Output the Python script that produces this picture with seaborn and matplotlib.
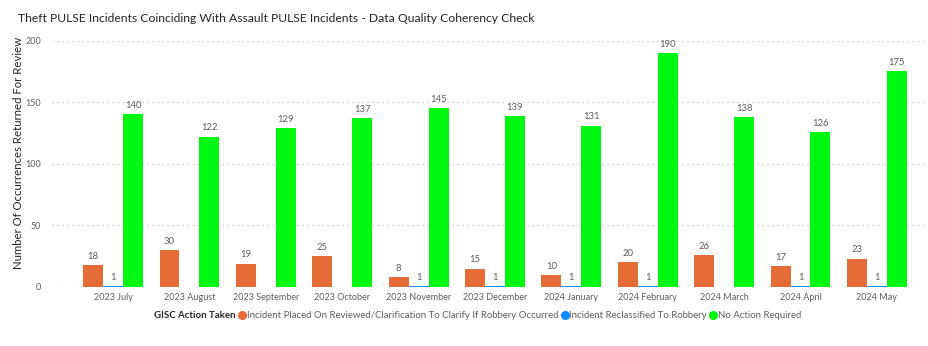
import matplotlib
matplotlib.use("Agg")
import matplotlib.pyplot as plt
from matplotlib.lines import Line2D
import seaborn as sns
import numpy as np
import pandas as pd

months = ["2023 July", "2023 August", "2023 September", "2023 October", "2023 November",
          "2023 December", "2024 January", "2024 February", "2024 March", "2024 April", "2024 May"]
series_names = ["Incident Placed On Reviewed/Clarification To Clarify If Robbery Occurred",
                "Incident Reclassified To Robbery",
                "No Action Required"]
placed_on_review = [18, 30, 19, 25, 8, 15, 10, 20, 26, 17, 23]
reclassified = [1, np.nan, np.nan, np.nan, 1, 1, 1, 1, np.nan, 1, 1]
no_action = [140, 122, 129, 137, 145, 139, 131, 190, 138, 126, 175]
colors = ["#E66C37", "#118DFF", "#00F70F"]

rows = []
for s, vals in zip(series_names, [placed_on_review, reclassified, no_action]):
    for m, v in zip(months, vals):
        rows.append({"Month": m, "Series": s, "Value": v})
df = pd.DataFrame(rows)

sns.set_theme(style="white")
plt.rcParams['font.family'] = ['Lato', 'DejaVu Sans']

W, H = 929, 346
fig = plt.figure(figsize=(W / 100, H / 100), dpi=100)
ax = fig.add_axes([52 / W, 1 - 287 / H, (925 - 52) / W, (287 - 40.5) / H])

sns.barplot(data=df, x="Month", y="Value", hue="Series", order=months, hue_order=series_names,
            palette=colors, width=0.785, gap=0, ax=ax, legend=False, saturation=1,
            errorbar=None, edgecolor="none")

for cont in ax.containers:
    labels = ["" if np.isnan(v) else f"{int(v)}" for v in cont.datavalues]
    ax.bar_label(cont, labels=labels, padding=3, fontsize=6.8, color="#605E5C", clip_on=False)

ax.set_xlim(-0.80, 10.63)
ax.set_ylim(0, 200)
ax.set_yticks([0, 50, 100, 150, 200])
ax.yaxis.grid(True, linestyle=(0, (1, 3)), color="#C8C6C4", linewidth=0.9)
ax.set_axisbelow(True)
for sp in ax.spines.values():
    sp.set_visible(False)
ax.tick_params(axis="both", length=0, labelsize=6.5, colors="#605E5C")
ax.tick_params(axis="x", pad=4)
ax.tick_params(axis="y", pad=8)
ax.set_xlabel("")
ax.set_ylabel("Number Of Occurrences Returned For Review", fontsize=8.2, color="#252423")
ax.yaxis.set_label_coords((24 - 52) / 873, (287 - 153) / 246.5)

fig.text(18 / W, 1 - 18 / H, "Theft PULSE Incidents Coinciding With Assault PULSE Incidents - Data Quality Coherency Check",
         fontsize=8.7, color="#252423", va="center", ha="left")

handles = [Line2D([], [], linestyle="none", marker=None)]
handles += [Line2D([], [], linestyle="none", marker="o", markersize=5.5, color=c) for c in colors]
labs = ["GISC Action Taken"] + series_names
leg = fig.legend(handles, labs, loc="center", bbox_to_anchor=(474 / W, 1 - 316 / H), ncol=4,
                 frameon=False, fontsize=6.9, handlelength=0.6, handletextpad=0.2, columnspacing=0.35,
                 borderpad=0)
for i, t in enumerate(leg.get_texts()):
    t.set_color("#605E5C")
    if i == 0:
        t.set_fontweight("bold")
        t.set_color("#252423")

fig.savefig("out.png", dpi=100)
